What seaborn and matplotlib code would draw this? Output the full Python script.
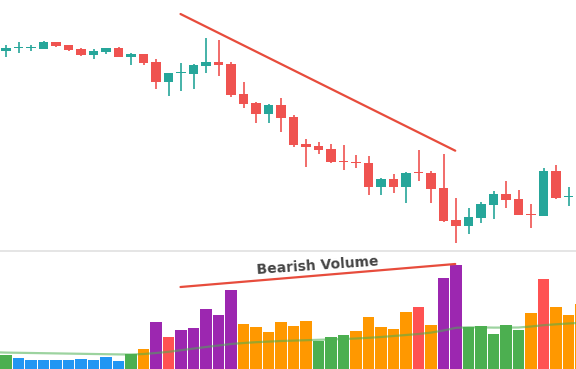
import numpy as np
import pandas as pd
import matplotlib
matplotlib.use("Agg")
import matplotlib.pyplot as plt
import seaborn as sns

# ---------------- data ----------------
opens = [94.93, 95.16, 95.16, 95.13, 95.80, 95.47, 95.10, 94.53, 94.80, 95.20,
         94.33, 94.60, 93.80, 91.83, 92.66, 92.63, 93.43, 93.80, 93.63, 90.60,
         89.70, 88.63, 89.50, 88.33, 85.60, 85.40, 85.10, 83.84, 83.74, 83.67,
         81.27, 82.10, 81.27, 82.68, 82.70, 81.23, 78.00, 77.43, 78.23, 79.53,
         80.60, 80.10, 78.54, 78.43, 82.90, 80.26]
closes = [95.17, 95.17, 95.17, 95.80, 95.43, 95.00, 94.50, 94.90, 95.17, 94.33,
          94.60, 93.73, 91.83, 92.67, 92.67, 93.50, 93.80, 93.53, 90.47, 89.60,
          88.63, 89.50, 88.23, 85.50, 85.33, 85.00, 83.83, 83.83, 83.73, 81.27,
          82.10, 81.27, 82.73, 82.67, 81.13, 77.93, 77.43, 78.30, 79.60, 80.60,
          80.03, 78.53, 78.53, 82.90, 80.23, 80.27]
highs = [95.50, 95.77, 95.50, 95.90, 95.80, 95.47, 95.20, 95.10, 95.17, 95.30,
         94.73, 94.60, 94.07, 92.67, 93.73, 93.60, 96.17, 96.00, 93.83, 91.80,
         89.80, 89.60, 90.20, 88.50, 86.10, 85.77, 85.60, 85.50, 84.50, 84.40,
         82.20, 82.60, 82.83, 85.00, 82.87, 84.60, 80.17, 79.17, 79.80, 80.90,
         81.90, 81.00, 79.60, 83.17, 83.50, 81.27]
lows = [94.33, 94.73, 94.93, 95.13, 95.33, 94.93, 94.43, 94.13, 94.57, 94.27,
        93.53, 93.47, 91.10, 90.43, 90.93, 91.13, 92.73, 92.43, 90.33, 89.20,
        87.73, 87.73, 86.83, 85.27, 83.33, 84.57, 83.67, 83.00, 83.17, 80.50,
        80.50, 80.73, 79.67, 81.93, 79.67, 77.83, 75.73, 76.57, 77.73, 78.10,
        79.23, 78.47, 77.23, 78.43, 80.07, 79.43]

volumes = [140, 110, 90, 90, 90, 90, 100, 90, 120, 80,
           150, 200, 470, 320, 390, 410, 600, 540, 790, 450,
           420, 370, 470, 430, 480, 280, 320, 340, 380, 520,
           420, 400, 570, 620, 440, 910, 1040, 420, 430, 350,
           440, 390, 560, 900, 620, 540, 650]
volume_class = ["up", "low", "low", "low", "low", "low", "low", "low", "low", "low",
                "up", "mid", "high", "spike", "high", "high", "high", "high", "high", "mid",
                "mid", "mid", "mid", "mid", "mid", "up", "up", "up", "mid", "mid",
                "mid", "mid", "mid", "spike", "mid", "high", "high", "up", "up", "up",
                "up", "up", "mid", "spike", "mid", "mid", "mid"]
volume_ma_x = [-0.5, 0, 1, 2, 3, 4, 5, 6, 7, 8, 9,
               10, 11, 12, 13, 14, 15, 16, 17, 18, 19,
               20, 21, 22, 23, 24, 25, 26, 27, 28, 29,
               30, 31, 32, 33, 34, 35, 36, 37, 38, 39,
               40, 41, 42, 43, 44, 45, 46]
volume_ma = [166, 164, 162, 160, 158, 156, 154, 152, 150, 148, 146,
             145, 150, 160, 172, 188, 204, 220, 235, 250, 260,
             268, 274, 280, 284, 288, 292, 296, 300, 305, 312,
             320, 330, 340, 350, 364, 385, 412, 417, 416, 414,
             414, 415, 425, 438, 447, 455, 462]

trend_price_x = [13.96, 35.94]
trend_price_y = [98.60, 84.93]
trend_vol_x = [13.96, 35.94]
trend_vol_y = [820, 1050]
label_text = "Bearish Volume"

# ---------------- styling ----------------
sns.set_style("white")
TEAL = "#26a69a"
RED = "#ef5350"
palette = {"low": "#2196f3", "up": "#4caf50", "mid": "#ff9800",
           "high": "#9c27b0", "spike": "#ff5252"}

fig = plt.figure(figsize=(5.76, 3.69), dpi=100)
ax_p = fig.add_axes([0, 118 / 369, 1, 251 / 369])
ax_v = fig.add_axes([0, 0, 1, 118 / 369])

n = len(opens)
idx = np.arange(n)
o = np.array(opens); c = np.array(closes)
h = np.array(highs); l = np.array(lows)
up = c > o
colors = np.where(up, TEAL, RED)

# wicks
ax_p.vlines(idx, l, h, colors=colors, linewidth=1.2, zorder=2)
# bodies
body_low = np.minimum(o, c)
body_h = np.maximum(np.abs(c - o), 0.1)
ax_p.bar(idx, body_h, bottom=body_low, width=0.74, color=colors,
         edgecolor="none", zorder=3)
# trend line on price
ax_p.plot(trend_price_x, trend_price_y, color="#e74c3c", lw=1.6,
          solid_capstyle="round", zorder=4)

ax_p.set_xlim(-0.48, 45.6)
ax_p.set_ylim(74.9, 100.0)
ax_p.set_axis_off()

# volume bars
vdf = pd.DataFrame({"idx": np.arange(len(volumes)), "volume": volumes,
                    "cls": volume_class})
sns.barplot(data=vdf, x="idx", y="volume", hue="cls", palette=palette,
            dodge=False, width=0.92, legend=False, ax=ax_v,
            edgecolor="none", saturation=1, zorder=2)
mdf = pd.DataFrame({"x": volume_ma_x, "ma": volume_ma})
sns.lineplot(data=mdf, x="x", y="ma", color="#4caf50", alpha=0.55,
             lw=1.6, ax=ax_v, zorder=3)
ax_v.plot(trend_vol_x, trend_vol_y, color="#e74c3c", lw=1.6,
          solid_capstyle="round", zorder=4)
ax_v.text(24.9, 1030, label_text, rotation=4, ha="center", va="center",
          fontsize=10, fontweight="bold", color="#454545",
          family="DejaVu Sans", zorder=5)

ax_v.set_xlim(-0.48, 45.6)
ax_v.set_ylim(0, 1180)
ax_v.set_xlabel("")
ax_v.set_ylabel("")
ax_v.set_xticks([])
ax_v.set_yticks([])
for s in ["left", "right", "bottom"]:
    ax_v.spines[s].set_visible(False)
ax_v.spines["top"].set_color("#e0e0e0")
ax_v.spines["top"].set_linewidth(1.2)

fig.savefig("out.png", dpi=100)
